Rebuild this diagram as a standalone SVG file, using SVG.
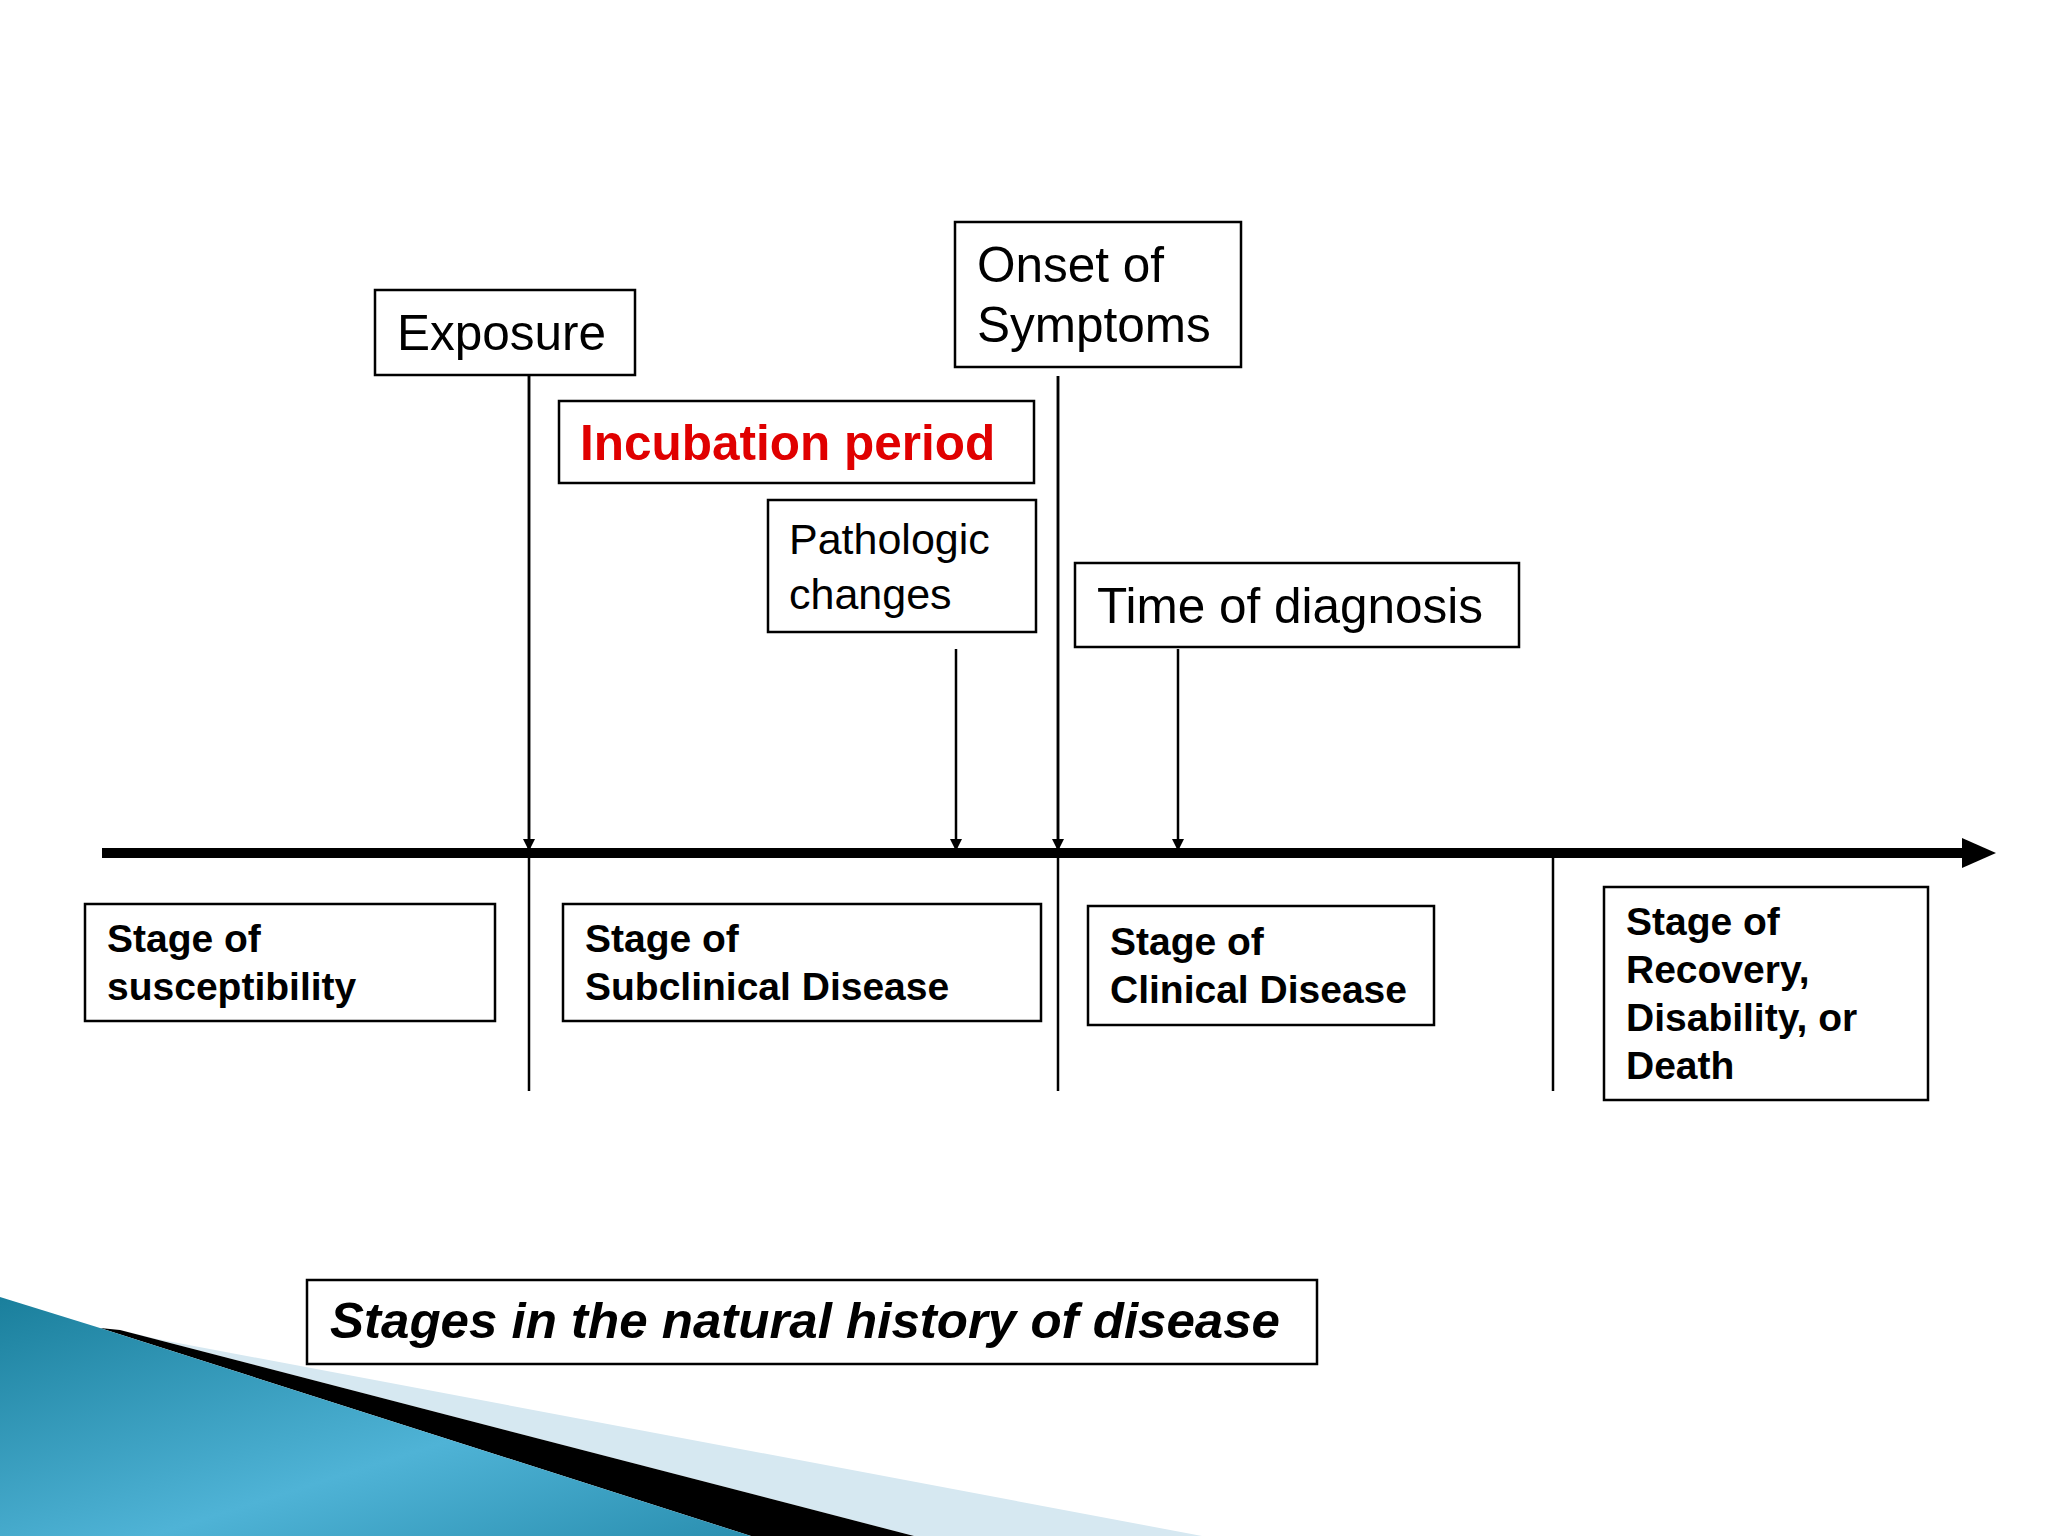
<svg xmlns="http://www.w3.org/2000/svg" width="2048" height="1536" viewBox="0 0 2048 1536">
<defs>
<style>
.b{fill:#fff;stroke:#000;stroke-width:2.5}
.t{font-family:"Liberation Sans",Arial,sans-serif;fill:#000}
.s{font-family:"Liberation Sans",Arial,sans-serif;font-weight:bold;font-size:39px;fill:#000}
.l{stroke:#000;stroke-width:2.5;fill:none}
</style>
<marker id="a" viewBox="0 0 10 10" refX="10" refY="5" markerWidth="12" markerHeight="12" markerUnits="userSpaceOnUse" orient="auto"><path d="M0,0L10,5L0,10z" fill="#000"/></marker>
<linearGradient id="g" x1="0" y1="0" x2="1" y2="1"><stop offset="0" stop-color="#1a7f9c"/><stop offset="0.6" stop-color="#4fb3d6"/><stop offset="1" stop-color="#2a8fb0"/></linearGradient>
</defs>
<rect width="2048" height="1536" fill="#fff"/>
<g id="decor">
<polygon points="120,1330 157,1339 1202,1536 914,1536" fill="#d6e8f1"/>
<polygon points="100,1328 120,1330 914,1536 751,1536" fill="#000"/>
<polygon points="0,1297 100,1328 751,1536 0,1536" fill="url(#g)"/>
</g>
<g id="connectors">
<line x1="102" y1="853" x2="1965" y2="853" stroke="#000" stroke-width="10"/>
<polygon points="1962,838 1996,853 1962,868" fill="#000"/>
<line class="l" x1="529" y1="376" x2="529" y2="1091"/>
<line class="l" x1="1058" y1="376" x2="1058" y2="1091"/>
<line class="l" x1="1553" y1="858" x2="1553" y2="1091"/>
<line class="l" x1="529" y1="376" x2="529" y2="851" marker-end="url(#a)"/>
<line class="l" x1="1058" y1="376" x2="1058" y2="851" marker-end="url(#a)"/>
<line class="l" x1="956" y1="649" x2="956" y2="851" marker-end="url(#a)"/>
<line class="l" x1="1178" y1="649" x2="1178" y2="851" marker-end="url(#a)"/>
</g>
<g id="exposure"><rect class="b" x="375" y="290" width="260" height="85"/><text class="t" x="397" y="350" font-size="49.5">Exposure</text></g>
<g id="incubation"><rect class="b" x="559" y="401" width="475" height="82"/><text x="580" y="460" font-family="Liberation Sans,Arial,sans-serif" font-weight="bold" font-size="49.5" fill="#e00000">Incubation period</text></g>
<g id="pathologic"><rect class="b" x="768" y="500" width="268" height="132"/><text class="t" x="789" y="554" font-size="43">Pathologic</text><text class="t" x="789" y="609" font-size="43">changes</text></g>
<g id="onset"><rect class="b" x="955" y="222" width="286" height="145"/><text class="t" x="977" y="282" font-size="49.5">Onset of</text><text class="t" x="977" y="342" font-size="49.5">Symptoms</text></g>
<g id="diagnosis"><rect class="b" x="1075" y="563" width="444" height="84"/><text class="t" x="1097" y="623" font-size="49.5">Time of diagnosis</text></g>
<g id="s1"><rect class="b" x="85" y="904" width="410" height="117"/><text class="s" x="107" y="952">Stage of</text><text class="s" x="107" y="1000">susceptibility</text></g>
<g id="s2"><rect class="b" x="563" y="904" width="478" height="117"/><text class="s" x="585" y="952">Stage of</text><text class="s" x="585" y="1000">Subclinical Disease</text></g>
<g id="s3"><rect class="b" x="1088" y="906" width="346" height="119"/><text class="s" x="1110" y="955">Stage of</text><text class="s" x="1110" y="1003">Clinical Disease</text></g>
<g id="s4"><rect class="b" x="1604" y="887" width="324" height="213"/><text class="s" x="1626" y="935">Stage of</text><text class="s" x="1626" y="983">Recovery,</text><text class="s" x="1626" y="1031">Disability, or</text><text class="s" x="1626" y="1079">Death</text></g>
<g id="caption"><rect class="b" x="307" y="1280" width="1010" height="84"/><text class="t" x="330" y="1338" font-size="50" font-weight="bold" font-style="italic" textLength="950" lengthAdjust="spacingAndGlyphs">Stages in the natural history of disease</text></g>
</svg>
